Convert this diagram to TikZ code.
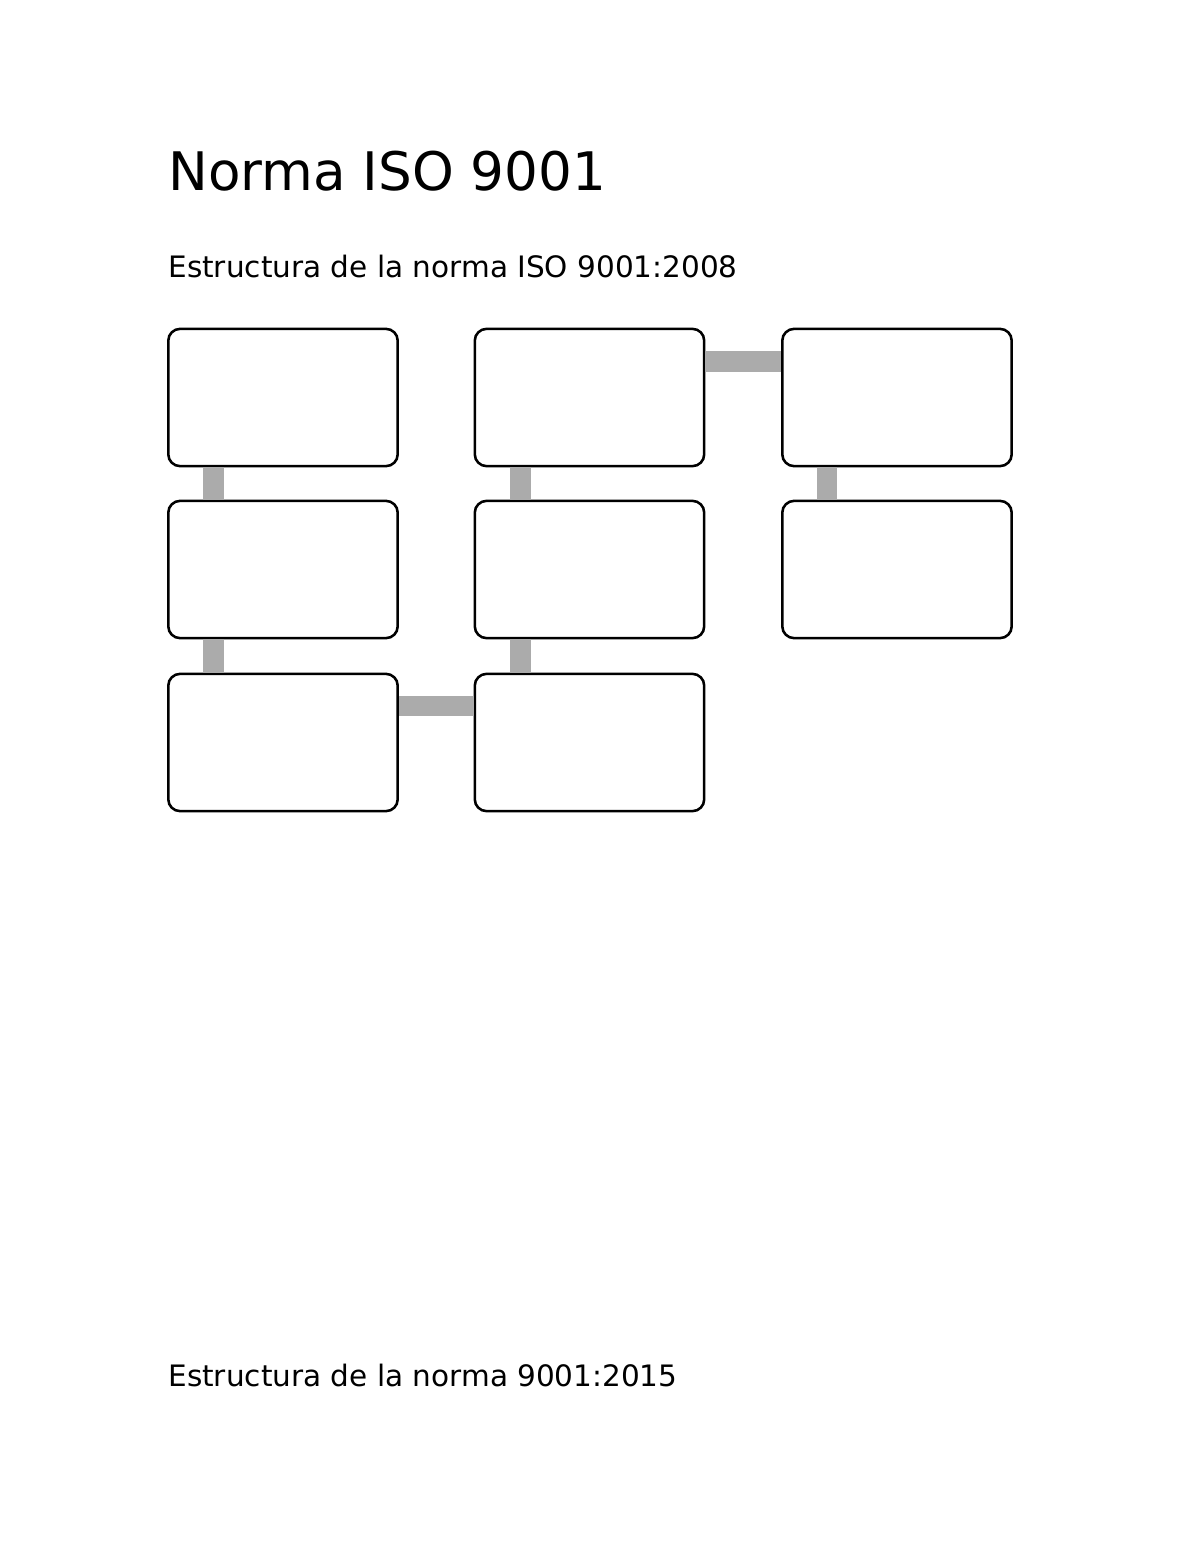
\documentclass[tikz,border=0pt]{standalone}
\usepackage{fontspec}
\setmainfont{DejaVu Sans}
\usepackage{tikz}

\begin{document}
\begin{tikzpicture}[x=0.51pt, y=-0.51pt,
        box/.style={draw, line width=1.3pt, rounded corners=6pt, fill=white,
            minimum width=117pt, minimum height=70pt, inner sep=0pt},
        link/.style={line width=10.5pt, color=black!33}]
        \useasboundingbox (0,0) rectangle (1200,1553);

        % Headings
        \node[anchor=base west, inner sep=0pt, font=\fontsize{27.1}{32}\selectfont] (title) at (168,191) {Norma ISO 9001};
        \node[anchor=base west, inner sep=0pt, font=\fontsize{15.05}{18}\selectfont] (sub1) at (168,277) {Estructura de la norma ISO 9001:2008};
        \node[anchor=base west, inner sep=0pt, font=\fontsize{15.05}{18}\selectfont] (sub2) at (168,1386) {Estructura de la norma 9001:2015};

        % Box centres
        \coordinate (c1) at (283,397.5);
        \coordinate (c2) at (283,569.5);
        \coordinate (c3) at (283,742.5);
        \coordinate (c4) at (589.5,742.5);
        \coordinate (c5) at (589.5,569.5);
        \coordinate (c6) at (589.5,397.5);
        \coordinate (c7) at (897,397.5);
        \coordinate (c8) at (897,569.5);

        % Boxes
        \node[box] (b1) at (c1) {};
        \node[box] (b2) at (c2) {};
        \node[box] (b3) at (c3) {};
        \node[box] (b4) at (c4) {};
        \node[box] (b5) at (c5) {};
        \node[box] (b6) at (c6) {};
        \node[box] (b7) at (c7) {};
        \node[box] (b8) at (c8) {};

        % Links
        \draw[link] ([xshift=23.7pt]b1.south west) -- ([xshift=23.7pt]b2.north west);
        \draw[link] ([xshift=23.7pt]b2.south west) -- ([xshift=23.7pt]b3.north west);
        \draw[link] ([yshift=-17pt]b3.north east) -- ([yshift=-17pt]b4.north west);
        \draw[link] ([xshift=23.9pt]b4.north west) -- ([xshift=23.9pt]b5.south west);
        \draw[link] ([xshift=23.9pt]b5.north west) -- ([xshift=23.9pt]b6.south west);
        \draw[link] ([yshift=-17.3pt]b6.north east) -- ([yshift=-17.3pt]b7.north west);
        \draw[link] ([xshift=23.5pt]b7.south west) -- ([xshift=23.5pt]b8.north west);
    \end{tikzpicture}
\end{document}
